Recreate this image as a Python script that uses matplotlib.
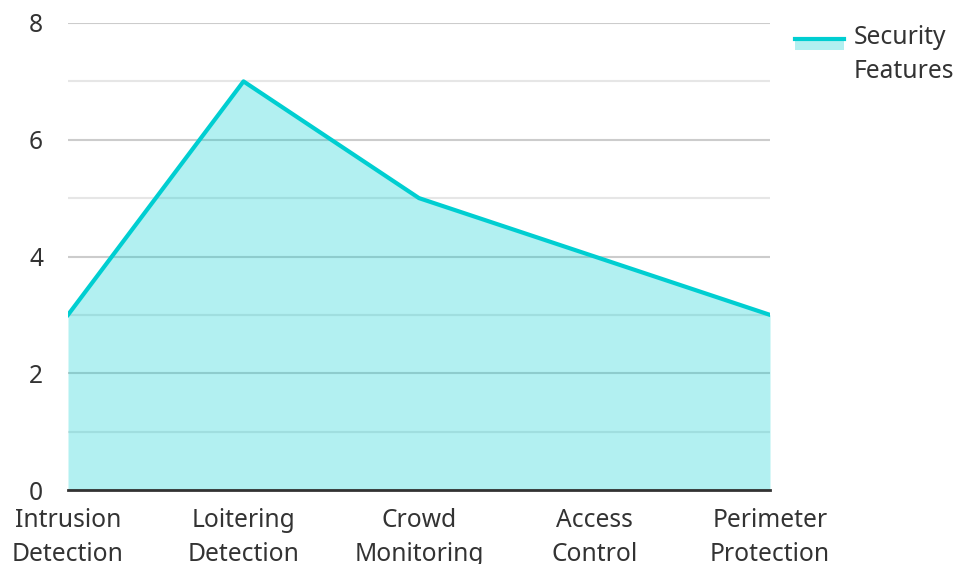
import matplotlib
matplotlib.use("Agg")
import matplotlib.pyplot as plt
from matplotlib.patches import Rectangle
from matplotlib.lines import Line2D
from matplotlib.legend_handler import HandlerBase

plt.rcParams['font.family'] = ['Noto Sans', 'DejaVu Sans']

categories = ["Intrusion\nDetection", "Loitering\nDetection", "Crowd\nMonitoring", "Access\nControl", "Perimeter\nProtection"]
values = [3, 7, 5, 4, 3]
series_name = "Security\nFeatures"
y_ticks = [0, 2, 4, 6, 8]
y_minor = [1, 3, 5, 7]

color = "#00CED1"

fig = plt.figure(figsize=(9.57, 5.64), dpi=100)
ax = fig.add_axes([68/957, 74/564, 702/957, 467/564])

x = list(range(len(categories)))
ax.fill_between(x, values, 0, color=color, alpha=0.3, linewidth=0, zorder=3)
ax.plot(x, values, color=color, linewidth=3, zorder=4)

ax.set_xlim(0, len(categories) - 1)
ax.set_ylim(0, 8)
ax.set_yticks(y_ticks)
ax.set_yticks(y_minor, minor=True)
ax.set_xticks(x)
ax.set_xticklabels(categories)
ax.set_axisbelow(True)
ax.grid(True, which='major', axis='y', color='#cccccc', linewidth=1.5, zorder=1)
ax.grid(True, which='minor', axis='y', color='#e6e6e6', linewidth=1.5, zorder=1)
for s in ['top', 'right', 'left']:
    ax.spines[s].set_visible(False)
ax.spines['bottom'].set_color('#333333')
ax.spines['bottom'].set_linewidth(2)
ax.spines['bottom'].set_zorder(5)
ax.tick_params(axis='both', which='both', length=0, labelsize=17.7, labelcolor='#333333')
ax.tick_params(axis='y', pad=18)
ax.tick_params(axis='x', pad=13)
for lbl in ax.get_xticklabels():
    lbl.set_linespacing(1.45)


class AreaHandler(HandlerBase):
    def create_artists(self, legend, orig_handle, xdescent, ydescent, width, height, fontsize, trans):
        top = height * 1.35
        bot = height * 0.8
        rect = Rectangle((-xdescent, -ydescent + bot), width, top - bot,
                         facecolor=color, alpha=0.3, linewidth=0, transform=trans)
        line = Line2D([-xdescent, -xdescent + width], [-ydescent + top, -ydescent + top],
                      color=color, linewidth=3, transform=trans)
        return [rect, line]


proxy = Rectangle((0, 0), 1, 1)
leg = fig.legend([proxy], [series_name], handler_map={Rectangle: AreaHandler()},
                 loc='upper left', bbox_to_anchor=(795/957, 1 - 25/564),
                 frameon=False, fontsize=17.7, handlelength=2.0, handleheight=0.8,
                 handletextpad=0.4, borderaxespad=0, borderpad=0)
for t in leg.get_texts():
    t.set_color('#333333')
    t.set_linespacing(1.45)

fig.savefig("out.png", dpi=100)
